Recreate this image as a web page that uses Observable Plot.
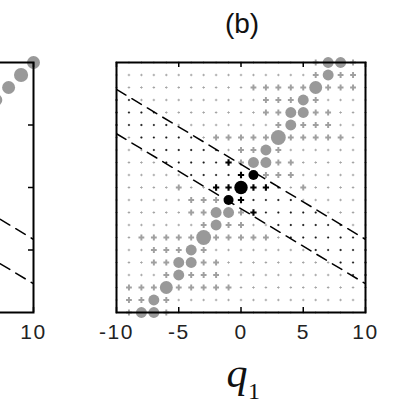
<!DOCTYPE html>
<html><head><meta charset="utf-8">
<script src="https://cdn.jsdelivr.net/npm/d3@7"></script>
<script src="https://cdn.jsdelivr.net/npm/@observablehq/plot@0.6"></script>
<style>
html,body{margin:0;padding:0;background:#fff;}
#wrap{position:relative;width:410px;height:410px;overflow:hidden;background:#fff;}
#wrap svg{position:absolute;top:0;}
#wrap svg g[aria-label="x-axis tick label"]{letter-spacing:1.5px;}
</style></head><body><div id="wrap"></div>
<script>
// ---- data ----
const gridVals = [-10,-9,-8,-7,-6,-5,-4,-3,-2,-1,0,1,2,3,4,5,6,7,8,9,10];
const xTickVals = [-10,-5,0,5,10];
const yTickVals = [-5,0,5];
const panelATickLabels = [10];
const panelTitle = "(b)";
const xLabelMain = "q";
const xLabelSub = "1";

// two dashed lines (q1 -> q2)
const lineQ1 = [-10, 10];
const upperLineQ2 = [7.85, -4.15];
const lowerLineQ2 = [4.3, -7.7];

// panel (b): large gray points
const grayQ1 = [-8,-7,-7,-6,-5,-5,-4,-4,-3,-2,-2,-1, 1,2,2,3,4,4,5,5,6,7,7,8];
const grayQ2 = [-10,-10,-9,-8,-7,-6,-6,-5,-4,-3,-2,-2, 2,2,3,4,5,6,6,7,8,9,10,10];
const grayW  = [0.3,0.3,0.3,0.42,0.3,0.3,0.3,0.3,0.55,0.3,0.3,0.3, 0.3,0.3,0.3,0.55,0.3,0.3,0.3,0.3,0.42,0.3,0.3,0.3];

// panel (b): large black points
const blackQ1 = [-1, 0, 1];
const blackQ2 = [-1, 0, 1];
const blackW  = [0.25, 0.45, 0.25];

// panel (b): small black points (band between the lines), by column
const bandCols = [-10,-9,-8,-7,-6,-5,-4,-3,-2,-1,0,1,2,3,4,5,6,7,8,9,10];
const bandRows = [[5,6,7],[5,6,7],[4,5,6],[3,4,5,6],[2,3,4,5],[2,3,4],[1,2,3,4],[1,2,3],[0,1,2,3],[-1,0,1,2],[-1,0,1],[-2,-1,0,1],[-2,-1,0],[-3,-2,-1,0],[-4,-3,-2,-1],[-4,-3,-2],[-5,-4,-3,-2],[-5,-4,-3],[-6,-5,-4,-3],[-7,-6,-5,-4],[-7,-6,-5]];

// panel (b): medium gray crosses
const grayPlus = [[6,10],[9,10],[6,9],[8,9],[9,9],[1,8],[2,8],[3,8],[4,8],[5,8],[7,8],[8,8],[9,8],[2,7],[3,7],[4,7],[6,7],[2,6],[3,6],[6,6],[7,6],[3,5],[5,5],[6,5],[7,5],[-2,4],[-1,4],[0,4],[1,4],[2,4],[4,4],[5,4],[6,4],[7,4],[8,4],[0,3],[1,3],[3,3],[0,2],[3,2],[4,2],[2,1],[3,1],[4,1],[5,0],
  [-6,-10],[-9,-10],[-6,-9],[-8,-9],[-9,-9],[-1,-8],[-2,-8],[-3,-8],[-4,-8],[-5,-8],[-7,-8],[-8,-8],[-9,-8],[-2,-7],[-3,-7],[-4,-7],[-6,-7],[-2,-6],[-3,-6],[-6,-6],[-7,-6],[-3,-5],[-5,-5],[-6,-5],[-7,-5],[2,-4],[1,-4],[0,-4],[-1,-4],[-2,-4],[-4,-4],[-5,-4],[-6,-4],[-7,-4],[-8,-4],[0,-3],[-1,-3],[-3,-3],[0,-2],[-3,-2],[-4,-2],[-2,-1],[-3,-1],[-4,-1],[-5,0]];
// panel (b): medium black crosses
const blackPlus = [[-2,0],[-1,0],[1,0],[2,0],[0,1],[0,-1],[-1,2],[1,-2]];

const backgroundWeight = 0.011;
const bandWeight = 0.009;
const grayPlusWeight = 0.06;
const blackPlusWeight = 0.07;

// panel (a) visible part: large gray points on the diagonal
const aGrayQ1 = [7, 8, 9, 10];
const aGrayQ2 = [7, 8, 9, 10];
const aGrayW  = [0.38, 0.42, 0.5, 0.42];

// ---- build ----
const toPts = (a, b, w) => a.map((q, i) => ({q1: q, q2: b[i], w: w ? w[i] : 0}));
const bandPts = bandCols.flatMap((c, i) => bandRows[i].map(r => ({q1: c, q2: r})));
const upperLine = toPts(lineQ1, upperLineQ2);
const lowerLine = toPts(lineQ1, lowerLineQ2);

function panel({big, bigBlack, withGrid, rightTicks, tickLabels, title, xlab}) {
  const marks = [];
  if (withGrid) {
    marks.push(Plot.dot(d3.cross(gridVals, gridVals), {x: d => d[0], y: d => d[1], r: () => backgroundWeight, symbol: "cross", fill: "#a4a4a4"}));
    marks.push(Plot.dot(bandPts, {x: "q1", y: "q2", r: () => bandWeight, symbol: "square", fill: "#1a1a1a"}));
    marks.push(Plot.dot(grayPlus, {x: d => d[0], y: d => d[1], r: () => grayPlusWeight, symbol: "cross", fill: "#a0a0a0"}));
    marks.push(Plot.dot(blackPlus, {x: d => d[0], y: d => d[1], r: () => blackPlusWeight, symbol: "cross", fill: "#000"}));
  }
  marks.push(Plot.dot(big, {x: "q1", y: "q2", r: "w", fill: "#999999"}));
  if (bigBlack) marks.push(Plot.dot(bigBlack, {x: "q1", y: "q2", r: "w", fill: "#000"}));
  for (const L of [upperLine, lowerLine]) {
    marks.push(Plot.line(L, {x: "q1", y: "q2", stroke: "#000", strokeWidth: 1.5, strokeDasharray: "11,7", clip: true}));
  }
  marks.push(Plot.frame({stroke: "#000", strokeWidth: 2}));
  marks.push(Plot.tickX(xTickVals, {x: d => d, insetTop: 245, stroke: "#000", strokeWidth: 1.5}));
  marks.push(Plot.tickX(xTickVals, {x: d => d, insetBottom: 245, stroke: "#000", strokeWidth: 1.5}));
  if (rightTicks) marks.push(Plot.tickY(yTickVals, {y: d => d, insetLeft: 244, stroke: "#000", strokeWidth: 1.5}));
  marks.push(Plot.axisX({ticks: tickLabels, tickSize: 0, tickPadding: 12, tickFormat: d => String(d), label: null, fontSize: 21, fill: "#222"}));
  if (title) marks.push(Plot.text([title], {text: d => d, frameAnchor: "top", lineAnchor: "middle", dy: -38, dx: 1, fontSize: 28, fill: "#111"}));
  if (xlab) {
    marks.push(Plot.text([xLabelMain], {text: d => d, frameAnchor: "bottom", lineAnchor: "bottom", dy: 74, dx: -4, fontSize: 42, fontStyle: "italic", fontFamily: "Liberation Serif", fill: "#111"}));
    marks.push(Plot.text([xLabelSub], {text: d => d, frameAnchor: "bottom", lineAnchor: "bottom", textAnchor: "start", dy: 86, dx: 7, fontSize: 24, fontFamily: "Liberation Serif", fill: "#111"}));
  }
  return Plot.plot({
    width: 410, height: 410,
    marginLeft: 116, marginRight: 45, marginTop: 62, marginBottom: 98,
    x: {domain: [-10, 10], axis: null},
    y: {domain: [-10, 10], axis: null},
    r: {type: "sqrt", domain: [0, 1], range: [0, 10]},
    style: {fontFamily: "Liberation Sans", background: "transparent", overflow: "visible"},
    marks
  });
}

const wrap = document.getElementById("wrap");
const pa = panel({big: toPts(aGrayQ1, aGrayQ2, aGrayW), rightTicks: true, tickLabels: panelATickLabels});
pa.style.left = "-332px";
wrap.appendChild(pa);
const pb = panel({big: toPts(grayQ1, grayQ2, grayW), bigBlack: toPts(blackQ1, blackQ2, blackW), withGrid: true, tickLabels: xTickVals, title: panelTitle, xlab: true});
pb.style.left = "0px";
wrap.appendChild(pb);
</script></body></html>
